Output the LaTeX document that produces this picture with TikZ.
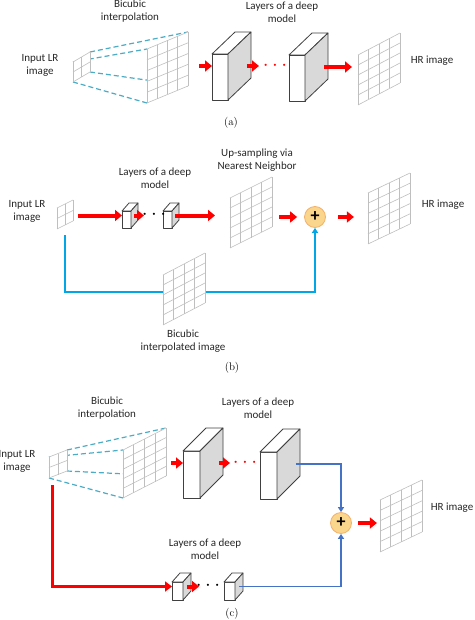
\documentclass[tikz,border=0pt]{standalone}
\usepackage{fontspec}
\newfontfamily\labelfont{Carlito}
\usepackage{tikz}
\usetikzlibrary{arrows.meta, positioning, calc, backgrounds}
\definecolor{arrowred}{RGB}{255,0,0}
\definecolor{dashcyan}{RGB}{75,172,198}
\definecolor{skipblue}{RGB}{0,166,230}
\definecolor{linkblue}{RGB}{68,114,196}
\definecolor{sumfill}{RGB}{250,213,140}
\definecolor{sumdraw}{RGB}{244,177,107}
\tikzstyle{txt} = [align=center, inner sep=0pt, text=black!85, font=\labelfont\fontsize{11}{13}\selectfont]
\tikzstyle{subcap} = [inner sep=0pt, font=\fontsize{11}{13}\selectfont]
\tikzstyle{gridline} = [draw=black!25, line width=0.6pt]
\tikzstyle{boxline} = [draw=black!75, line width=0.8pt, line join=round]
\tikzstyle{redarrow} = [draw=arrowred, line width=4pt, -{Triangle[length=7pt,width=11pt]}]
\tikzstyle{redlink} = [draw=arrowred, line width=3pt, -{Triangle[length=7pt,width=10pt]}]
\tikzstyle{skiplink} = [draw=skipblue, line width=1.8pt, -{Triangle[length=5pt,width=6pt]}]
\tikzstyle{bluelink} = [draw=linkblue, line width=1.4pt, -{Triangle[length=5pt,width=6pt]}]
\tikzstyle{interp} = [draw=dashcyan, line width=1.2pt, dash pattern=on 5pt off 3pt]
\tikzstyle{sumnode} = [circle, minimum size=21pt, inner sep=0pt, fill=sumfill, draw=sumdraw, line width=0.8pt, font=\labelfont\bfseries\fontsize{18}{18}\selectfont]
\tikzstyle{dotsnode} = [inner sep=0pt, font=\bfseries\fontsize{20}{20}\selectfont]

% image grid: width, height, skew, columns, rows
% layer box: width, height, depth x, depth y
\tikzset{
  pics/imggrid/.style n args={5}{code={
    \fill[white] (0,0) -- (#1,-#3) -- (#1,{#2-#3}) -- (0,#2) -- cycle;
    \foreach \i in {0,...,#4}
      \draw[gridline] ({\i*#1/#4},{-\i*#3/#4}) -- ++(0,#2);
    \foreach \j in {0,...,#5}
      \draw[gridline] (0,{\j*#2/#5}) -- ++(#1,-#3);
    \coordinate (-tl) at (0,0);
    \coordinate (-tr) at (#1,-#3);
    \coordinate (-br) at (#1,{#2-#3});
    \coordinate (-bl) at (0,#2);
    \coordinate (-b) at ({#1/2},{#2-#3/2});
  }},
  pics/layerbox/.style n args={4}{code={
    \draw[boxline, fill=white] (0,0) rectangle (#1,#2);
    \draw[boxline, fill=white] (0,0) -- (#3,-#4) -- ({#1+#3},-#4) -- (#1,0) -- cycle;
    \draw[boxline, fill=black!15] (#1,0) -- ({#1+#3},-#4) -- ({#1+#3},{#2-#4}) -- (#1,#2) -- cycle;
    \coordinate (-in) at (0,{(#2-#4)/2});
    \coordinate (-out) at ({#1+#3-4},{(#2-#4)/2});
  }}
}

\begin{document}
\begin{tikzpicture}[x=1pt, y=-1pt]
  \useasboundingbox (0,0) rectangle (474,620);

  % (a)
  \pic (LRa) at (73,62) {imggrid={17}{20}{10}{2}{2}};
  \pic (Ga) at (147,49) {imggrid={41}{54}{17}{4}{5}};
  \pic (La1) at (212,54) {layerbox={16}{46}{23}{22}};
  \pic (La2) at (289,55) {layerbox={16}{46}{23}{22}};
  \pic (HRa) at (358,55) {imggrid={42}{50}{22}{4}{5}};
  \begin{scope}[on background layer]
    \draw[interp] (LRa-tl) -- (Ga-tl);
    \draw[interp] (LRa-tr) -- (Ga-tr);
    \draw[interp] (LRa-br) -- (Ga-br);
    \draw[interp] (LRa-bl) -- (Ga-bl);
  \end{scope}
  \node[txt] (inA) at (40,65.5) {Input LR\\image};
  \node[txt] (bicA) at (130,11) {Bicubic\\interpolation};
  \node[txt] (layA) at (282,12.5) {Layers of a deep\\model};
  \node[txt] (hrA) at (432,61) {HR image};
  \node[dotsnode, text=arrowred] (dotsa) at (275,66) {$\cdots$};
  \draw[redarrow] ($(La1-in)+(-13,0)$) -- (La1-in);
  \draw[redarrow] (La1-out) -- ++(12,0);
  \draw[redarrow] (La2-out) -- ++(28,0);
  \node[subcap] (capa) at (231,123) {(a)};

  % (b)
  \pic (LRb) at (57,208) {imggrid={16}{21}{8}{2}{2}};
  \pic (Lb1) at (122,211) {layerbox={9}{17}{7}{8}};
  \pic (Lb2) at (163,211) {layerbox={9}{17}{7}{8}};
  \pic (Ub) at (230,198) {imggrid={42}{50}{21}{4}{5}};
  \pic (HRb) at (368,193) {imggrid={42}{51}{20}{4}{5}};
  \pic (Bb) at (163,275) {imggrid={42}{50}{22}{4}{5}};
  \node[sumnode] (sumb) at (315,217) {+};
  \begin{scope}[on background layer]
    \draw[skiplink] ($(LRb-b)+(0,10)$) |- ($(sumb.south)+(0,64)$) -- (sumb.south);
  \end{scope}
  \node[txt] (inB) at (27,211.5) {Input LR\\image};
  \node[txt] (layB) at (155,178) {Layers of a deep\\model};
  \node[txt] (upB) at (257,160.5) {Up-sampling via\\Nearest Neighbor};
  \node[txt] (hrB) at (443,205) {HR image};
  \node[txt] (bicB) at (183,341) {Bicubic\\interpolated image};
  \node[dotsnode] (dotsb) at (154,215) {$\cdots$};
  \draw[redarrow] ($(Lb1-in)+(-44,0)$) -- (Lb1-in);
  \draw[redarrow] (Lb1-out) -- ++(10,0);
  \draw[redarrow] (Lb2-out) -- ++(40,0);
  \draw[redarrow] ($(sumb.west)+(-25,0)$) -- ($(sumb.west)+(-7,0)$);
  \draw[redarrow] ($(sumb.east)+(12,0)$) -- ($(sumb.east)+(28,0)$);
  \node[subcap] (capb) at (232,368) {(b)};

  % (c)
  \pic (LRc) at (49,457) {imggrid={18}{21}{7}{2}{2}};
  \pic (Gc) at (123,450) {imggrid={43}{48}{22}{4}{5}};
  \pic (Lc1) at (183,451) {layerbox={17}{47}{23}{23}};
  \pic (Lc2) at (260,452) {layerbox={17}{47}{23}{23}};
  \pic (HRc) at (380,500) {imggrid={42}{52}{20}{4}{5}};
  \pic (sc1) at (172,582) {layerbox={11}{18}{8}{9}};
  \pic (sc2) at (224,582) {layerbox={11}{18}{8}{9}};
  \node[sumnode] (sumc) at (341,523) {+};
  \begin{scope}[on background layer]
    \draw[interp] (LRc-tl) -- (Gc-tl);
    \draw[interp] (LRc-tr) -- (Gc-tr);
    \draw[interp] (LRc-br) -- (Gc-br);
    \draw[interp] (LRc-bl) -- (Gc-bl);
  \end{scope}
  \node[txt] (inC) at (17,461.5) {Input LR\\image};
  \node[txt] (bicC) at (107,408.5) {Bicubic\\interpolation};
  \node[txt] (layC) at (258,408.5) {Layers of a deep\\model};
  \node[txt] (layC2) at (205,549.5) {Layers of a deep\\model};
  \node[txt] (hrC) at (452,508) {HR image};
  \node[dotsnode, text=arrowred] (dotsc) at (245,463) {$\cdots$};
  \node[dotsnode] (dotsc2) at (208,586) {$\cdots$};
  \draw[redarrow] ($(Lc1-in)+(-12,0)$) -- (Lc1-in);
  \draw[redarrow] (Lc1-out) -- ++(11,0);
  \draw[bluelink] (Lc2-out) -| (sumc.north);
  \draw[bluelink] (sc2-out) -| (sumc.south);
  \draw[redarrow] ($(sumc.east)+(6,0)$) -- ++(19,0);
  \draw[redlink] ($(LRc-bl)+(3,7)$) |- (sc1-in);
  \draw[redarrow] (sc1-out) -- ++(12,0);
  \node[subcap] (capc) at (232,614) {(c)};
\end{tikzpicture}
\end{document}
